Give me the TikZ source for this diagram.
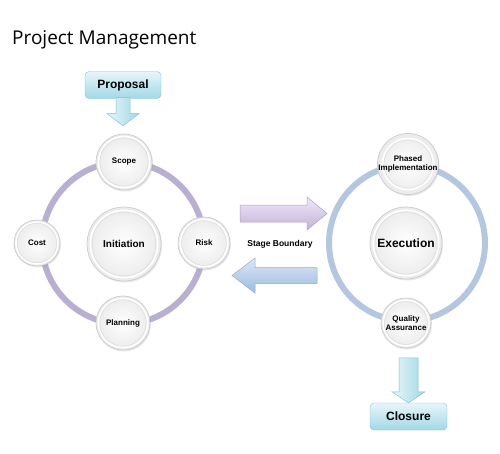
\documentclass[tikz,border=0pt]{standalone}
\usepackage{fontspec}
\setmainfont{Liberation Sans}
\newfontfamily\titlefont{Open Sans}
\usetikzlibrary{positioning, shadows}

\definecolor{ringlilac}{HTML}{B9AFD1}
\definecolor{ringblue}{HTML}{B5C6E1}
\definecolor{boxtop}{HTML}{E6F6FA}
\definecolor{boxbottom}{HTML}{A3D8E6}
\definecolor{boxedge}{HTML}{7FC3D5}
\definecolor{lilactop}{HTML}{F0E9F7}
\definecolor{lilacbottom}{HTML}{C2B2D9}
\definecolor{lilacedge}{HTML}{AC9CC8}
\definecolor{bluetop}{HTML}{DCE8F5}
\definecolor{bluebottom}{HTML}{9DBADF}
\definecolor{blueedge}{HTML}{8EABD3}

\begin{document}
\begin{tikzpicture}[
    x=1pt, y=-1pt,
    ball/.style={
        circle,
        draw=gray!40,
        line width=0.7pt,
        minimum size=#1,
        inner color=white,
        outer color=gray!16,
        inner sep=0pt,
        align=center,
        font=\bfseries\fontsize{8}{8.5}\selectfont,
        drop shadow={opacity=0.18, shadow xshift=1pt, shadow yshift=-1.5pt},
        path picture={
            \draw[white, line width=1.6pt] (path picture bounding box.center) circle ({0.455*#1});
            \draw[gray!28, line width=0.5pt] (path picture bounding box.center) circle ({0.43*#1});
        }
    },
    stagebox/.style={
        rectangle,
        rounded corners=4pt,
        draw=boxedge,
        top color=boxtop,
        bottom color=boxbottom,
        minimum width=76pt,
        minimum height=27pt,
        font=\bfseries\fontsize{12}{14}\selectfont
    },
    ring/.style={draw=#1, line width=6pt},
    downarrow/.style={draw=boxedge, left color=boxtop, right color=boxbottom, line width=0.5pt},
    fwdarrow/.style={draw=lilacedge, top color=lilactop, bottom color=lilacbottom, line width=0.5pt},
    backarrow/.style={draw=blueedge, top color=bluetop, bottom color=bluebottom, line width=0.5pt}
]
\useasboundingbox (0,0) rectangle (500,453);

% Title
\node[font=\titlefont\fontsize{19}{21}\selectfont, anchor=base west, inner sep=0pt] (title) at (12,44) {Project Management};

% Rings
\coordinate (initc) at (123,243);
\coordinate (execc) at (407,243);
\draw[ring=ringlilac] (initc) circle (81pt);
\draw[ring=ringblue] (execc) circle (78pt);

% Initiation stage
\node[stagebox] (proposal) at (123,85) {Proposal};
\node[ball=56pt] (scope) at (124,162) {Scope};
\node[ball=46pt] (cost) at (37,243) {Cost};
\node[ball=52pt] (risk) at (204,243) {Risk};
\node[ball=54pt] (planning) at (123,323) {Planning};
\node[ball=74pt, font=\bfseries\fontsize{10}{12}\selectfont] (initiation) at (124,244) {Initiation};

% Execution stage
\node[ball=56pt] (phased) at (408,164) {Phased\\Implementation};
\node[ball=72pt, font=\bfseries\fontsize{12}{14}\selectfont] (execution) at (406,243) {Execution};
\node[ball=50pt] (quality) at (406,323) {Quality\\Assurance};
\node[stagebox, minimum width=77pt] (closure) at (408.5,416.5) {Closure};

% Block arrows
\draw[downarrow] ([xshift=-7pt, yshift=1pt]proposal.south) -- ++(14,0) -- ++(0,16) -- ++(9,0)
    -- ++(-16,12) -- ++(-16,-12) -- ++(9,0) -- cycle;
\draw[downarrow] (closure.north) -- ++(-16.5,-11) -- ++(7,0) -- ++(0,-34) -- ++(19,0)
    -- ++(0,34) -- ++(7,0) -- cycle;

\coordinate (fwd) at (240,213.5);
\coordinate (back) at (232,275.5);
\draw[fwdarrow] (fwd) ++(0,-8.5) -- ++(67,0) -- ++(0,-8) -- ++(20,16.5) -- ++(-20,16.5)
    -- ++(0,-8) -- ++(-67,0) -- cycle;
\draw[backarrow] (back) -- ++(23,-17.5) -- ++(0,9.5) -- ++(62,0) -- ++(0,16) -- ++(-62,0)
    -- ++(0,9.5) -- cycle;

% Stage label
\node[font=\bfseries\fontsize{8.5}{10}\selectfont] (boundary) at (280,244) {Stage Boundary};

\end{tikzpicture}
\end{document}
